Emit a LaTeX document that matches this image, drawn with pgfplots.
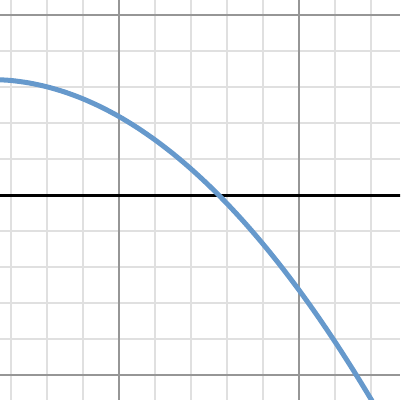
\documentclass[border=0pt]{standalone}
\usepackage{pgfplots}
\pgfplotsset{compat=1.18}

\definecolor{curveblue}{RGB}{102,153,204}
\definecolor{minorgrid}{RGB}{224,224,224}
\definecolor{majorgrid}{RGB}{150,150,150}

\begin{document}
\begin{tikzpicture}
\begin{axis}[
    scale only axis,
    width=400pt,
    height=400pt,
    xmin=-3.306, xmax=7.806,
    ymin=-5.694, ymax=5.417,
    axis line style={draw=none},
    xtick={-3,-2,-1,1,2,3,4,6,7},
    ytick={-4,-3,-2,-1,1,2,3,4},
    xticklabels={}, yticklabels={},
    major tick length=0pt,
    grid=major,
    major grid style={draw=minorgrid, line width=1.6pt},
    extra x ticks={0,5},
    extra y ticks={-5,5},
    extra tick style={grid=major, major grid style={draw=majorgrid, line width=1.6pt}},
    extra x tick labels={}, extra y tick labels={},
]
  % x axis
  \addplot[black, line width=3pt, no markers] coordinates {(-4,0) (9,0)};

  % curve
  \addplot[curveblue, line width=5pt, smooth, line join=round, no markers] coordinates {
    (-3.5, 3.210) (-3.0, 3.181) (-2.5, 3.113) (-2.0, 3.005) (-1.5, 2.858)
    (-1.0, 2.671) (-0.5, 2.445) (0.0, 2.180) (0.5, 1.875) (1.0, 1.531)
    (1.5, 1.148) (2.0, 0.725) (2.5, 0.263) (3.0, -0.239) (3.5, -0.780)
    (4.0, -1.361) (4.5, -1.981) (5.0, -2.640) (5.5, -3.339) (6.0, -4.077)
    (6.5, -4.854) (7.0, -5.671) (7.5, -6.528)
  };
\end{axis}
\pgfresetboundingbox
\path (current axis.south west) rectangle (current axis.north east);
\end{tikzpicture}
\end{document}
